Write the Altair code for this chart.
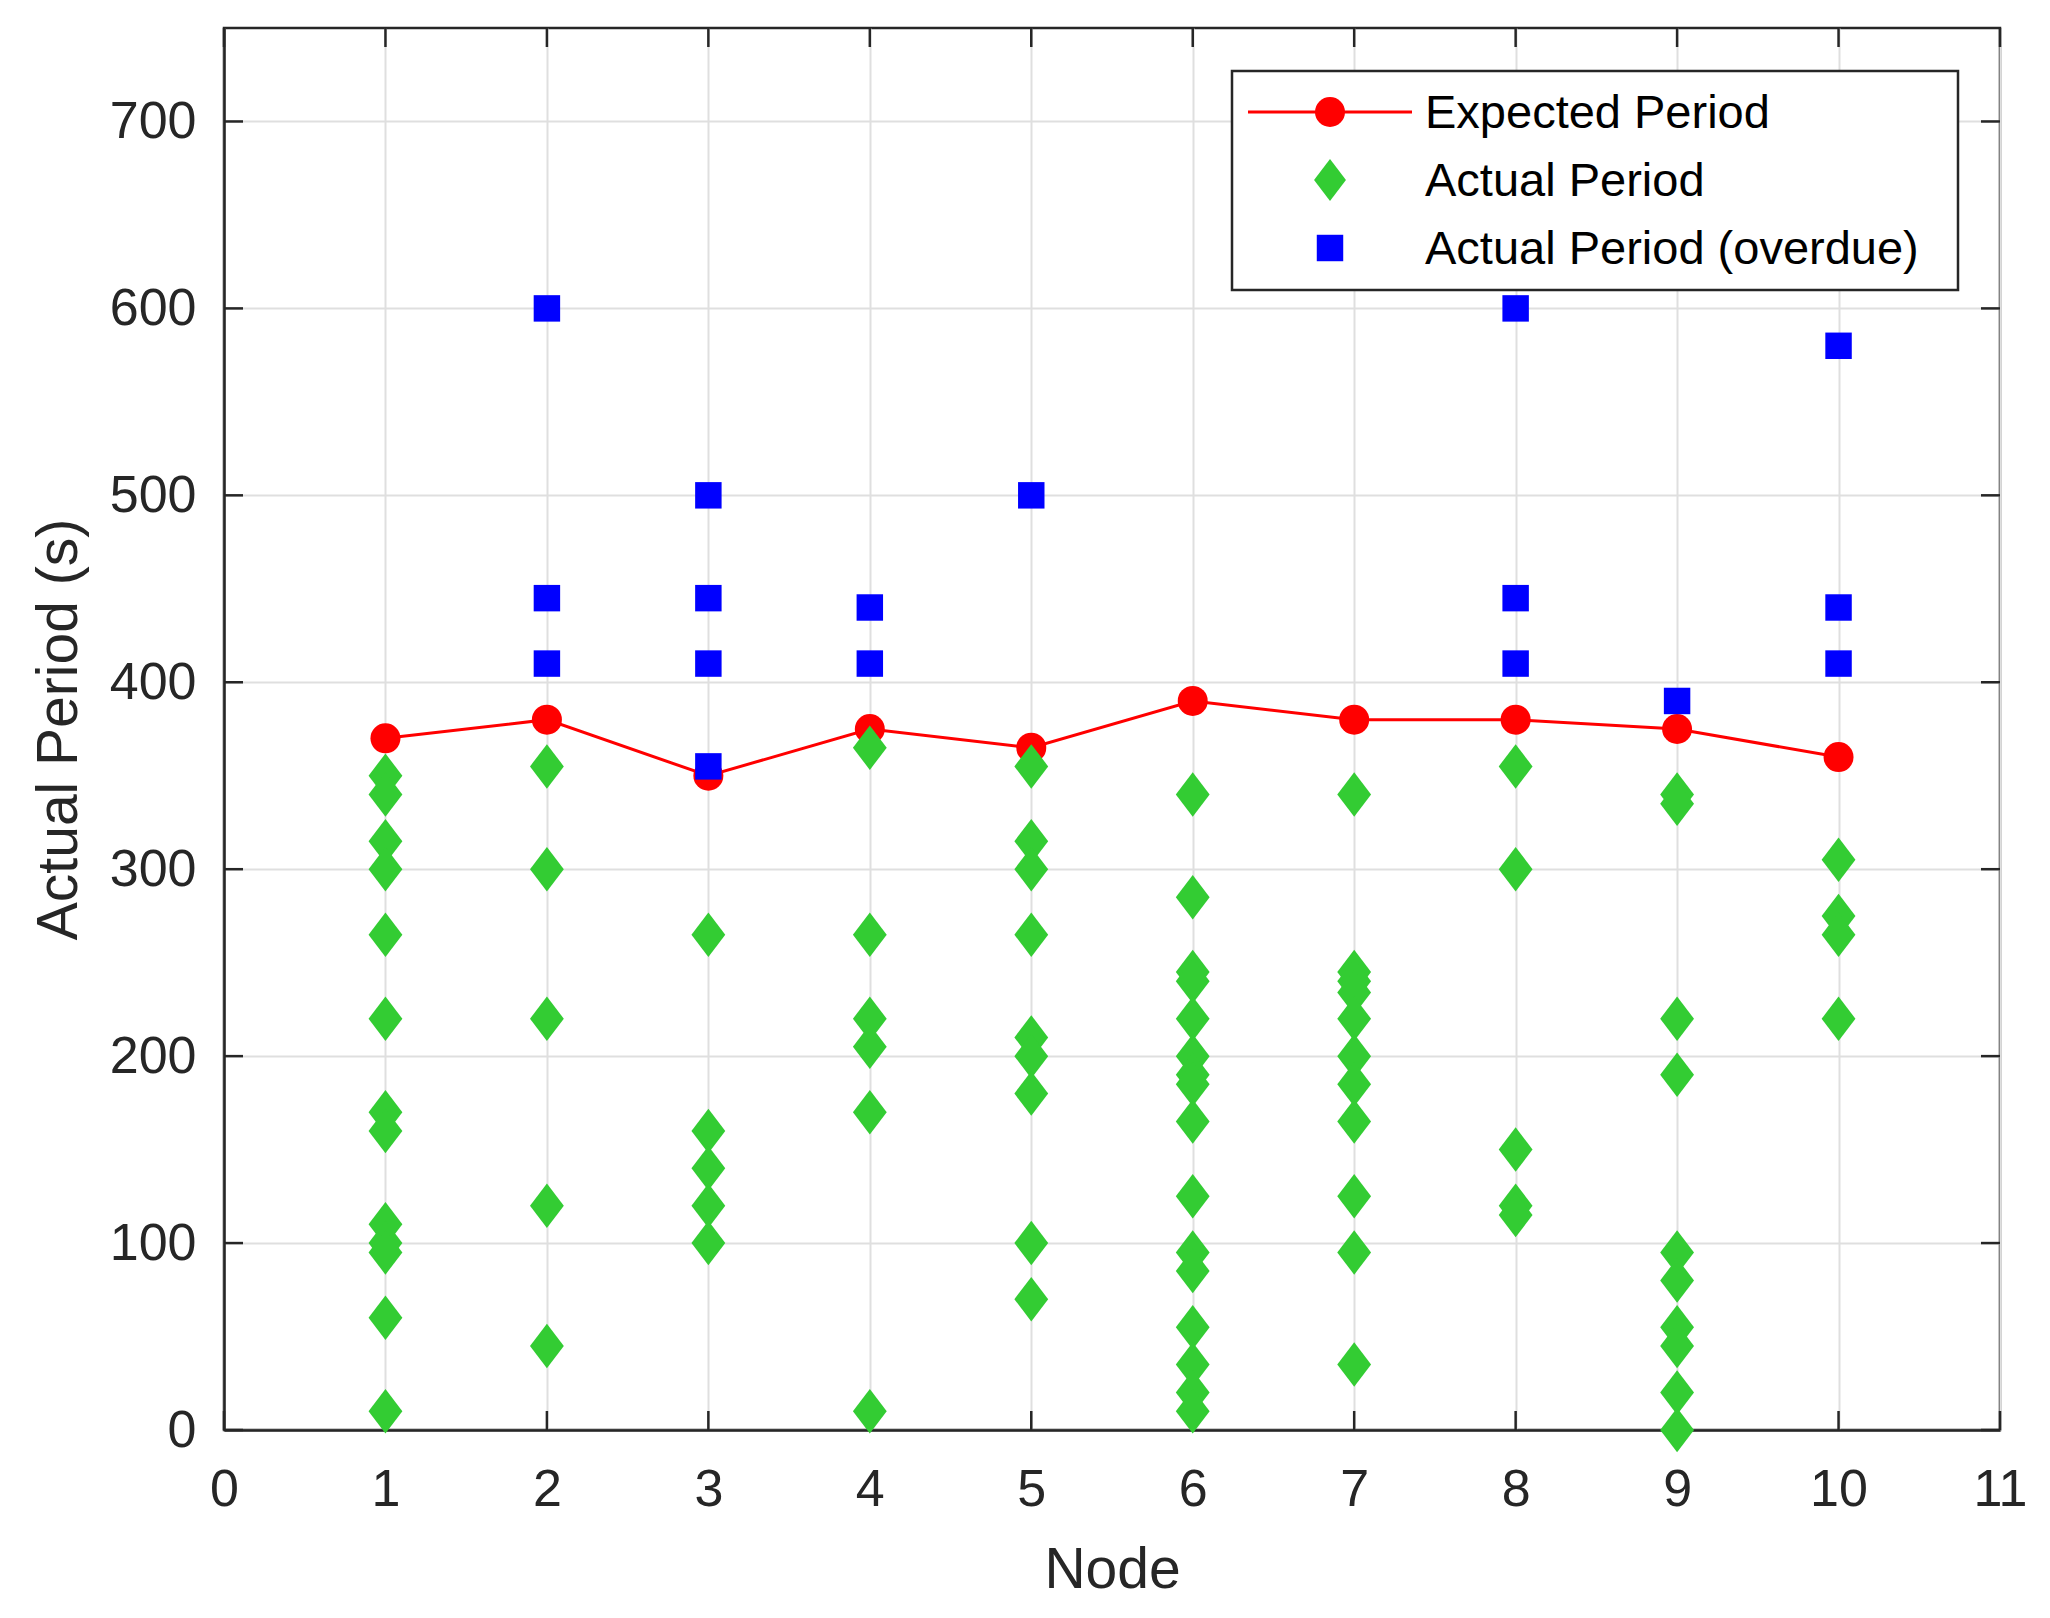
import altair as alt
import pandas as pd

# ---------------- data ----------------
nodes = [1, 2, 3, 4, 5, 6, 7, 8, 9, 10]
expected_period = [370, 380, 350, 375, 365, 390, 380, 380, 375, 360]

actual_node1 = [350, 340, 315, 300, 265, 220, 170, 160, 110, 100, 95, 60, 10]
actual_node2 = [355, 300, 220, 120, 45]
actual_node3 = [265, 160, 140, 120, 100]
actual_node4 = [365, 265, 220, 205, 170, 10]
actual_node5 = [355, 315, 300, 265, 210, 200, 180, 100, 70]
actual_node6 = [340, 285, 245, 240, 220, 200, 190, 185, 165, 125, 95, 85, 55, 35, 20, 10]
actual_node7 = [340, 245, 240, 234, 220, 200, 185, 165, 125, 95, 35]
actual_node8 = [355, 300, 150, 120, 115]
actual_node9 = [340, 335, 220, 190, 95, 80, 55, 45, 20, 0]
actual_node10 = [305, 275, 265, 220]

overdue_node2 = [600, 445, 410]
overdue_node3 = [500, 445, 410, 355]
overdue_node4 = [440, 410]
overdue_node5 = [500]
overdue_node8 = [600, 445, 410]
overdue_node9 = [390]
overdue_node10 = [580, 440, 410]

x_ticks = [0, 1, 2, 3, 4, 5, 6, 7, 8, 9, 10, 11]
y_ticks = [0, 100, 200, 300, 400, 500, 600, 700]
legend_labels = ["Expected Period", "Actual Period", "Actual Period (overdue)"]

# ---------------- tables ----------------
actual_lists = {1: actual_node1, 2: actual_node2, 3: actual_node3, 4: actual_node4,
                5: actual_node5, 6: actual_node6, 7: actual_node7, 8: actual_node8,
                9: actual_node9, 10: actual_node10}
overdue_lists = {2: overdue_node2, 3: overdue_node3, 4: overdue_node4, 5: overdue_node5,
                 8: overdue_node8, 9: overdue_node9, 10: overdue_node10}

df_expected = pd.DataFrame({"node": nodes, "period": expected_period})
df_actual = pd.DataFrame([{"node": n, "period": v} for n, vals in actual_lists.items() for v in vals])
df_overdue = pd.DataFrame([{"node": n, "period": v} for n, vals in overdue_lists.items() for v in vals])
df_xt = pd.DataFrame({"node": x_ticks})
df_yt = pd.DataFrame({"period": y_ticks})
df_one = pd.DataFrame({"k": [0]})

# ---------------- style ----------------
W, H = 1776, 1402
FONT = "Liberation Sans"
AX = "#262626"
GRID = "#dfdfdf"
RED = "#ff0000"
GREEN = "#33cc33"
BLUE = "#0000ff"
DIAMOND = "M0,-1L0.76,0L0,1L-0.76,0Z"

xs = alt.Scale(domain=[0, 11], nice=False)
ys = alt.Scale(domain=[0, 750], nice=False)

x_axis = alt.Axis(values=x_ticks, title="Node", format="d", grid=True, gridColor=GRID,
                  gridWidth=2, domainColor=AX, domainWidth=2.5, tickSize=0,
                  labelFontSize=52, labelColor=AX, labelFont=FONT, labelPadding=34,
                  labelFlush=False, labelOverlap=False, titleFontSize=57,
                  titleFontWeight="normal", titleColor=AX, titleFont=FONT,
                  titleY=140, titleBaseline="middle")
y_axis = alt.Axis(values=y_ticks, title="Actual Period (s)", format="d", grid=True,
                  gridColor=GRID, gridWidth=2, domainColor=AX, domainWidth=2.5, tickSize=0,
                  labelFontSize=52, labelColor=AX, labelFont=FONT, labelPadding=28,
                  labelOverlap=False, titleFontSize=57, titleFontWeight="normal",
                  titleColor=AX, titleFont=FONT, titleX=-165, titleY=H / 2,
                  titleBaseline="middle", titleAlign="center", titleAngle=270)

X = alt.X("node:Q", scale=xs, axis=x_axis)
Y = alt.Y("period:Q", scale=ys, axis=y_axis)

# inward ticks on all four sides
tick_bottom = alt.Chart(df_xt).mark_rule(color=AX, strokeWidth=2.5).encode(
    x=X, y=alt.value(H), y2=alt.value(H - 19))
tick_top = alt.Chart(df_xt).mark_rule(color=AX, strokeWidth=2.5).encode(
    x=X, y=alt.value(0), y2=alt.value(19))
tick_left = alt.Chart(df_yt).mark_rule(color=AX, strokeWidth=2.5).encode(
    y=Y, x=alt.value(0), x2=alt.value(19))
tick_right = alt.Chart(df_yt).mark_rule(color=AX, strokeWidth=2.5).encode(
    y=Y, x=alt.value(W), x2=alt.value(W - 19))

exp_line = alt.Chart(df_expected).mark_line(color=RED, strokeWidth=3).encode(x=X, y=Y)
exp_pts = alt.Chart(df_expected).mark_point(shape="circle", filled=True, color=RED,
                                            size=900, opacity=1).encode(x=X, y=Y)
act_pts = alt.Chart(df_actual).mark_point(shape=DIAMOND, filled=True, color=GREEN,
                                          size=1980, opacity=1).encode(x=X, y=Y)
ovd_pts = alt.Chart(df_overdue).mark_point(shape="square", filled=True, color=BLUE,
                                           size=700, opacity=1).encode(x=X, y=Y)

# legend box (decoration, pixel positions)
LX0, LX1, LY0, LY1 = 1008, 1734, 43, 262
SYM_X, TXT_X = 1106, 1201
ROWS = [84, 152, 220]
leg_box = alt.Chart(df_one).mark_rect(fill="white", stroke=AX, strokeWidth=2.5).encode(
    x=alt.value(LX0), x2=alt.value(LX1), y=alt.value(LY0), y2=alt.value(LY1))
leg_line = alt.Chart(df_one).mark_rule(color=RED, strokeWidth=3).encode(
    x=alt.value(1024), x2=alt.value(1188), y=alt.value(ROWS[0]))
leg_c = alt.Chart(df_one).mark_point(shape="circle", filled=True, color=RED, size=900,
                                     opacity=1).encode(x=alt.value(SYM_X), y=alt.value(ROWS[0]))
leg_d = alt.Chart(df_one).mark_point(shape=DIAMOND, filled=True, color=GREEN, size=1764,
                                     opacity=1).encode(x=alt.value(SYM_X), y=alt.value(ROWS[1]))
leg_s = alt.Chart(df_one).mark_point(shape="square", filled=True, color=BLUE, size=700,
                                     opacity=1).encode(x=alt.value(SYM_X), y=alt.value(ROWS[2]))
leg_txt = [
    alt.Chart(df_one).mark_text(align="left", baseline="middle", font=FONT, fontSize=47,
                                color="black").encode(x=alt.value(TXT_X), y=alt.value(ROWS[i] + 2),
                                                      text=alt.value(lbl))
    for i, lbl in enumerate(legend_labels)
]

chart = alt.layer(
    tick_bottom, tick_top, tick_left, tick_right,
    exp_line, exp_pts, act_pts, ovd_pts,
    leg_box, leg_line, leg_c, leg_d, leg_s, *leg_txt
).properties(
    width=W, height=H,
    autosize=alt.AutoSizeParams(type="none"),
    padding={"left": 216, "top": 20, "right": 40, "bottom": 178},
    background="white",
).configure_view(stroke=AX, strokeWidth=2.5)

chart.save("out.html", embed_options={"renderer": "svg", "actions": False})
